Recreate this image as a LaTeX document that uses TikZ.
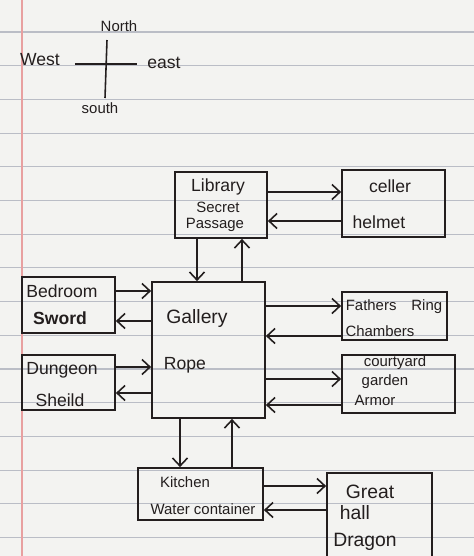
\documentclass[tikz,border=0pt]{standalone}
\usepackage{fontspec}
\setmainfont{Liberation Sans}
\usepackage{xcolor}
\usetikzlibrary{arrows.meta}
\definecolor{paperwhite}{RGB}{243,243,241}
\definecolor{ruleblue}{RGB}{186,189,198}
\definecolor{marginred}{RGB}{232,160,160}
\definecolor{pencil}{RGB}{35,30,30}

\begin{document}
\begin{tikzpicture}[x=0.02cm,y=-0.02cm]
    % Define styles
    \tikzstyle{room} = [rectangle, draw=pencil, line width=1pt, inner sep=0pt]
    \tikzstyle{roomtext} = [text=pencil, inner sep=0pt, font=\fontsize{10}{12}\selectfont]
    \tikzstyle{smalltext} = [text=pencil, inner sep=0pt, font=\fontsize{8.5}{10}\selectfont]
    \tikzstyle{arrow} = [draw=pencil, line width=0.9pt, -{Straight Barb[length=1.6mm,width=3mm]}]

    % Paper
    \useasboundingbox (0,0) rectangle (474,556);
    \fill [paperwhite] (0,0) rectangle (474,556);
    \foreach \k in {0,...,15}
        \draw [ruleblue, line width=0.6pt] (0,32+33.7*\k) -- (474,32+33.7*\k);
    \draw [marginred, line width=0.7pt] (22,0) -- (22,556);

    % Compass
    \coordinate (cnorth) at (107,40);
    \coordinate (csouth) at (105,98);
    \coordinate (cwest) at (75,64);
    \coordinate (ceast) at (137,64);
    \draw [pencil, line width=0.9pt] (cnorth) -- (csouth);
    \draw [pencil, line width=1.4pt] (cwest) -- (ceast);
    \node (north) [smalltext] at (119,26) {North};
    \node (west) [roomtext] at (40,60) {West};
    \node (east) [roomtext] at (164,63) {east};
    \node (south) [smalltext] at (100,108) {south};

    % Rooms
    \node (library) [room, minimum width=1.84cm, minimum height=1.32cm] at (221,205) {};
    \node (celler) [room, minimum width=2.06cm, minimum height=1.34cm] at (393.5,203.5) {};
    \node (gallery) [room, minimum width=2.26cm, minimum height=2.72cm] at (208.5,350) {};
    \node (bedroom) [room, minimum width=1.86cm, minimum height=1.12cm] at (68.5,305) {};
    \node (dungeon) [room, minimum width=1.86cm, minimum height=1.1cm] at (68.5,382.5) {};
    \node (fathers) [room, minimum width=2.1cm, minimum height=0.96cm] at (394.5,316) {};
    \node (courtyard) [room, minimum width=2.26cm, minimum height=1.16cm] at (398.5,384) {};
    \node (kitchen) [room, minimum width=2.5cm, minimum height=1.04cm] at (200.5,494) {};
    \node (greathall) [room, minimum width=2.1cm, minimum height=2.6cm] at (379.5,538) {};

    % Room texts
    \node (librarytext) [roomtext] at (218,187) {Library};
    \node (secrettext) [smalltext] at (218,207) {Secret};
    \node (passagetext) [smalltext] at (215,225) {Passage};
    \node (cellertext) [roomtext] at (390,186) {celler};
    \node (helmettext) [roomtext] at (379,222) {helmet};
    \node (bedroomtext) [roomtext] at (62,291) {Bedroom};
    \node (swordtext) [roomtext, font=\bfseries\fontsize{10}{12}\selectfont] at (60,318) {Sword};
    \node (dungeontext) [roomtext] at (62,370) {Dungeon};
    \node (sheildtext) [roomtext] at (60,400) {Sheild};
    \node (gallerytext) [roomtext, font=\fontsize{11}{13}\selectfont] at (197,318) {Gallery};
    \node (ropetext) [roomtext] at (185,365) {Rope};
    \node (fatherstext) [smalltext] at (394,307) {Fathers\quad Ring};
    \node (chamberstext) [smalltext] at (380,331) {Chambers};
    \node (courtyardtext) [smalltext] at (395,363) {courtyard};
    \node (gardentext) [smalltext] at (385,382) {garden};
    \node (armortext) [smalltext] at (375,400) {Armor};
    \node (kitchentext) [smalltext] at (185,482) {Kitchen};
    \node (watertext) [smalltext] at (203,509) {Water container};
    \node (greattext) [roomtext, font=\fontsize{11}{13}\selectfont] at (370,492) {Great};
    \node (halltext) [roomtext, font=\fontsize{11}{13}\selectfont] at (355,513) {hall};
    \node (dragontext) [roomtext, font=\fontsize{11}{13}\selectfont] at (365,542) {Dragon};

    % Passages
    \draw [arrow] ([yshift=0.26cm]library.east) -- ([yshift=0.26cm]library.east -| celler.west);
    \draw [arrow] ([yshift=-0.32cm]library.east -| celler.west) -- ([yshift=-0.32cm]library.east);
    \draw [arrow] ([xshift=-0.48cm]library.south) -- ([xshift=-0.48cm]library.south |- gallery.north);
    \draw [arrow] ([xshift=0.42cm]library.south |- gallery.north) -- ([xshift=0.42cm]library.south);
    \draw [arrow] ([yshift=0.28cm]bedroom.east) -- ([yshift=0.28cm]bedroom.east -| gallery.west);
    \draw [arrow] ([yshift=-0.32cm]bedroom.east -| gallery.west) -- ([yshift=-0.32cm]bedroom.east);
    \draw [arrow] ([yshift=0.31cm]dungeon.east) -- ([yshift=0.31cm]dungeon.east -| gallery.west);
    \draw [arrow] ([yshift=-0.21cm]dungeon.east -| gallery.west) -- ([yshift=-0.21cm]dungeon.east);
    \draw [arrow] ([yshift=0.2cm]fathers.west -| gallery.east) -- ([yshift=0.2cm]fathers.west);
    \draw [arrow] ([yshift=-0.4cm]fathers.west) -- ([yshift=-0.4cm]fathers.west -| gallery.east);
    \draw [arrow] ([yshift=0.1cm]courtyard.west -| gallery.east) -- ([yshift=0.1cm]courtyard.west);
    \draw [arrow] ([yshift=-0.42cm]courtyard.west) -- ([yshift=-0.42cm]courtyard.west -| gallery.east);
    \draw [arrow] ([xshift=-0.41cm]kitchen.north |- gallery.south) -- ([xshift=-0.41cm]kitchen.north);
    \draw [arrow] ([xshift=0.63cm]kitchen.north) -- ([xshift=0.63cm]kitchen.north |- gallery.south);
    \draw [arrow] ([yshift=0.16cm]kitchen.east) -- ([yshift=0.16cm]kitchen.east -| greathall.west);
    \draw [arrow] ([yshift=-0.32cm]kitchen.east -| greathall.west) -- ([yshift=-0.32cm]kitchen.east);
\end{tikzpicture}
\end{document}
